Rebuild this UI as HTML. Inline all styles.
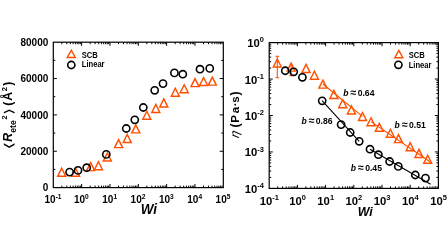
<!DOCTYPE html>
<html><head><meta charset="utf-8"><style>
html,body{margin:0;padding:0;background:#fff;width:448px;height:252px;overflow:hidden}
svg{display:block}
text{font-family:'Liberation Sans', sans-serif;fill:#000}
</style></head><body>
<svg width="448" height="252" viewBox="0 0 448 252">
<rect width="448" height="252" fill="#fff"/>
<rect x="53.3" y="42.2" width="170.00" height="145.40" fill="none" stroke="#000" stroke-width="1.2"/>
<path d="M61.83 187.6v-2.0M61.83 42.2v2.0M66.82 187.6v-2.0M66.82 42.2v2.0M70.36 187.6v-2.0M70.36 42.2v2.0M73.10 187.6v-2.0M73.10 42.2v2.0M75.35 187.6v-2.0M75.35 42.2v2.0M77.24 187.6v-2.0M77.24 42.2v2.0M78.89 187.6v-2.0M78.89 42.2v2.0M80.34 187.6v-2.0M80.34 42.2v2.0M81.63 187.6v-3.6M81.63 42.2v3.6M90.16 187.6v-2.0M90.16 42.2v2.0M95.15 187.6v-2.0M95.15 42.2v2.0M98.69 187.6v-2.0M98.69 42.2v2.0M101.44 187.6v-2.0M101.44 42.2v2.0M103.68 187.6v-2.0M103.68 42.2v2.0M105.58 187.6v-2.0M105.58 42.2v2.0M107.22 187.6v-2.0M107.22 42.2v2.0M108.67 187.6v-2.0M108.67 42.2v2.0M109.97 187.6v-3.6M109.97 42.2v3.6M118.50 187.6v-2.0M118.50 42.2v2.0M123.49 187.6v-2.0M123.49 42.2v2.0M127.03 187.6v-2.0M127.03 42.2v2.0M129.77 187.6v-2.0M129.77 42.2v2.0M132.01 187.6v-2.0M132.01 42.2v2.0M133.91 187.6v-2.0M133.91 42.2v2.0M135.55 187.6v-2.0M135.55 42.2v2.0M137.00 187.6v-2.0M137.00 42.2v2.0M138.30 187.6v-3.6M138.30 42.2v3.6M146.83 187.6v-2.0M146.83 42.2v2.0M151.82 187.6v-2.0M151.82 42.2v2.0M155.36 187.6v-2.0M155.36 42.2v2.0M158.10 187.6v-2.0M158.10 42.2v2.0M160.35 187.6v-2.0M160.35 42.2v2.0M162.24 187.6v-2.0M162.24 42.2v2.0M163.89 187.6v-2.0M163.89 42.2v2.0M165.34 187.6v-2.0M165.34 42.2v2.0M166.63 187.6v-3.6M166.63 42.2v3.6M175.16 187.6v-2.0M175.16 42.2v2.0M180.15 187.6v-2.0M180.15 42.2v2.0M183.69 187.6v-2.0M183.69 42.2v2.0M186.44 187.6v-2.0M186.44 42.2v2.0M188.68 187.6v-2.0M188.68 42.2v2.0M190.58 187.6v-2.0M190.58 42.2v2.0M192.22 187.6v-2.0M192.22 42.2v2.0M193.67 187.6v-2.0M193.67 42.2v2.0M194.97 187.6v-3.6M194.97 42.2v3.6M203.50 187.6v-2.0M203.50 42.2v2.0M208.49 187.6v-2.0M208.49 42.2v2.0M212.03 187.6v-2.0M212.03 42.2v2.0M214.77 187.6v-2.0M214.77 42.2v2.0M217.01 187.6v-2.0M217.01 42.2v2.0M218.91 187.6v-2.0M218.91 42.2v2.0M220.55 187.6v-2.0M220.55 42.2v2.0M222.00 187.6v-2.0M222.00 42.2v2.0" stroke="#000" stroke-width="1" fill="none"/>
<path d="M53.3 169.43h2.0M223.3 169.43h-2.0M53.3 151.25h3.6M223.3 151.25h-3.6M53.3 133.07h2.0M223.3 133.07h-2.0M53.3 114.90h3.6M223.3 114.90h-3.6M53.3 96.73h2.0M223.3 96.73h-2.0M53.3 78.55h3.6M223.3 78.55h-3.6M53.3 60.38h2.0M223.3 60.38h-2.0" stroke="#000" stroke-width="1" fill="none"/>
<text x="53.00" y="202.80" font-size="10" text-anchor="middle" font-weight="bold">10<tspan font-size="6.60" dy="-4.20">-1</tspan></text>
<text x="81.33" y="202.80" font-size="10" text-anchor="middle" font-weight="bold">10<tspan font-size="6.60" dy="-4.20">0</tspan></text>
<text x="109.67" y="202.80" font-size="10" text-anchor="middle" font-weight="bold">10<tspan font-size="6.60" dy="-4.20">1</tspan></text>
<text x="138.00" y="202.80" font-size="10" text-anchor="middle" font-weight="bold">10<tspan font-size="6.60" dy="-4.20">2</tspan></text>
<text x="166.33" y="202.80" font-size="10" text-anchor="middle" font-weight="bold">10<tspan font-size="6.60" dy="-4.20">3</tspan></text>
<text x="194.67" y="202.80" font-size="10" text-anchor="middle" font-weight="bold">10<tspan font-size="6.60" dy="-4.20">4</tspan></text>
<text x="223.00" y="202.80" font-size="10" text-anchor="middle" font-weight="bold">10<tspan font-size="6.60" dy="-4.20">5</tspan></text>
<text x="48.3" y="191.20" font-size="10" text-anchor="end" font-weight="bold">0</text>
<text x="48.3" y="154.85" font-size="10" text-anchor="end" font-weight="bold">20000</text>
<text x="48.3" y="118.50" font-size="10" text-anchor="end" font-weight="bold">40000</text>
<text x="48.3" y="82.15" font-size="10" text-anchor="end" font-weight="bold">60000</text>
<text x="48.3" y="45.80" font-size="10" text-anchor="end" font-weight="bold">80000</text>
<text transform="translate(148.9 213.9) scale(0.94 1)" font-size="14.3" text-anchor="middle" font-weight="bold" font-style="italic">Wi</text>
<text transform="translate(12.85 150.28) rotate(-90) scale(1.75 0.97)" font-size="12.3" font-family="DejaVu Sans, sans-serif">⟨</text>
<text transform="translate(12.25 141.80) rotate(-90)" font-size="12.3" font-weight="bold" font-style="italic">R</text>
<text transform="translate(15.78 132.80) rotate(-90)" font-size="8.7" font-weight="bold">ete</text>
<text transform="translate(7.17 119.60) rotate(-90)" font-size="7.4" font-weight="bold">2</text>
<text transform="translate(12.85 115.38) rotate(-90) scale(1.45 0.97)" font-size="12.3" font-family="DejaVu Sans, sans-serif">⟩</text>
<text transform="translate(12.25 105.70) rotate(-90)" font-size="12.3" font-weight="bold">(</text>
<text transform="translate(12.25 100.78) rotate(-90)" font-size="12.3" font-weight="bold">Å</text>
<text transform="translate(6.92 91.22) rotate(-90)" font-size="7.6" font-weight="bold">2</text>
<text transform="translate(12.25 85.85) rotate(-90)" font-size="12.3" font-weight="bold">)</text>
<path d="M71.30 50.25L75.30 57.45L67.30 57.45Z" fill="none" stroke="#ff5000" stroke-width="1.45" stroke-linejoin="miter"/>
<circle cx="71.30" cy="65.00" r="3.6" fill="none" stroke="#000" stroke-width="1.6"/>
<text transform="translate(81.8 57.6) scale(0.927 1)" font-size="8.2" font-weight="bold">SCB</text>
<text transform="translate(81.8 67.3) scale(0.927 1)" font-size="8.2" font-weight="bold">Linear</text>
<path d="M61.70 168.20L65.70 176.20L57.70 176.20Z" fill="none" stroke="#ff5000" stroke-width="1.45" stroke-linejoin="miter"/>
<path d="M75.60 168.20L79.60 176.20L71.60 176.20Z" fill="none" stroke="#ff5000" stroke-width="1.45" stroke-linejoin="miter"/>
<path d="M90.60 162.60L94.60 170.60L86.60 170.60Z" fill="none" stroke="#ff5000" stroke-width="1.45" stroke-linejoin="miter"/>
<path d="M98.50 161.70L102.50 169.70L94.50 169.70Z" fill="none" stroke="#ff5000" stroke-width="1.45" stroke-linejoin="miter"/>
<path d="M107.30 153.00L111.30 161.00L103.30 161.00Z" fill="none" stroke="#ff5000" stroke-width="1.45" stroke-linejoin="miter"/>
<path d="M118.60 139.60L122.60 147.60L114.60 147.60Z" fill="none" stroke="#ff5000" stroke-width="1.45" stroke-linejoin="miter"/>
<path d="M127.20 134.40L131.20 142.40L123.20 142.40Z" fill="none" stroke="#ff5000" stroke-width="1.45" stroke-linejoin="miter"/>
<path d="M135.80 124.85L139.80 132.85L131.80 132.85Z" fill="none" stroke="#ff5000" stroke-width="1.45" stroke-linejoin="miter"/>
<path d="M146.80 111.30L150.80 119.30L142.80 119.30Z" fill="none" stroke="#ff5000" stroke-width="1.45" stroke-linejoin="miter"/>
<path d="M155.80 104.40L159.80 112.40L151.80 112.40Z" fill="none" stroke="#ff5000" stroke-width="1.45" stroke-linejoin="miter"/>
<path d="M163.80 98.90L167.80 106.90L159.80 106.90Z" fill="none" stroke="#ff5000" stroke-width="1.45" stroke-linejoin="miter"/>
<path d="M175.30 88.30L179.30 96.30L171.30 96.30Z" fill="none" stroke="#ff5000" stroke-width="1.45" stroke-linejoin="miter"/>
<path d="M184.20 84.80L188.20 92.80L180.20 92.80Z" fill="none" stroke="#ff5000" stroke-width="1.45" stroke-linejoin="miter"/>
<path d="M195.00 78.60L199.00 86.60L191.00 86.60Z" fill="none" stroke="#ff5000" stroke-width="1.45" stroke-linejoin="miter"/>
<path d="M203.60 77.50L207.60 85.50L199.60 85.50Z" fill="none" stroke="#ff5000" stroke-width="1.45" stroke-linejoin="miter"/>
<path d="M212.30 77.10L216.30 85.10L208.30 85.10Z" fill="none" stroke="#ff5000" stroke-width="1.45" stroke-linejoin="miter"/>
<circle cx="69.60" cy="172.10" r="3.6" fill="none" stroke="#000" stroke-width="1.6"/>
<circle cx="78.00" cy="170.40" r="3.6" fill="none" stroke="#000" stroke-width="1.6"/>
<circle cx="86.70" cy="167.70" r="3.6" fill="none" stroke="#000" stroke-width="1.6"/>
<circle cx="106.30" cy="154.40" r="3.6" fill="none" stroke="#000" stroke-width="1.6"/>
<circle cx="126.25" cy="128.50" r="3.6" fill="none" stroke="#000" stroke-width="1.6"/>
<circle cx="134.80" cy="119.80" r="3.6" fill="none" stroke="#000" stroke-width="1.6"/>
<circle cx="143.30" cy="107.50" r="3.6" fill="none" stroke="#000" stroke-width="1.6"/>
<circle cx="154.70" cy="90.30" r="3.6" fill="none" stroke="#000" stroke-width="1.6"/>
<circle cx="163.00" cy="83.60" r="3.6" fill="none" stroke="#000" stroke-width="1.6"/>
<circle cx="174.40" cy="72.90" r="3.6" fill="none" stroke="#000" stroke-width="1.6"/>
<circle cx="182.80" cy="74.20" r="3.6" fill="none" stroke="#000" stroke-width="1.6"/>
<circle cx="200.00" cy="69.20" r="3.6" fill="none" stroke="#000" stroke-width="1.6"/>
<circle cx="209.75" cy="68.40" r="3.6" fill="none" stroke="#000" stroke-width="1.6"/>
<rect x="269.2" y="42.6" width="169.20" height="145.80" fill="none" stroke="#000" stroke-width="1.2"/>
<path d="M277.69 188.4v-2.0M277.69 42.6v2.0M282.65 188.4v-2.0M282.65 42.6v2.0M286.18 188.4v-2.0M286.18 42.6v2.0M288.91 188.4v-2.0M288.91 42.6v2.0M291.14 188.4v-2.0M291.14 42.6v2.0M293.03 188.4v-2.0M293.03 42.6v2.0M294.67 188.4v-2.0M294.67 42.6v2.0M296.11 188.4v-2.0M296.11 42.6v2.0M297.40 188.4v-3.6M297.40 42.6v3.6M305.89 188.4v-2.0M305.89 42.6v2.0M310.85 188.4v-2.0M310.85 42.6v2.0M314.38 188.4v-2.0M314.38 42.6v2.0M317.11 188.4v-2.0M317.11 42.6v2.0M319.34 188.4v-2.0M319.34 42.6v2.0M321.23 188.4v-2.0M321.23 42.6v2.0M322.87 188.4v-2.0M322.87 42.6v2.0M324.31 188.4v-2.0M324.31 42.6v2.0M325.60 188.4v-3.6M325.60 42.6v3.6M334.09 188.4v-2.0M334.09 42.6v2.0M339.05 188.4v-2.0M339.05 42.6v2.0M342.58 188.4v-2.0M342.58 42.6v2.0M345.31 188.4v-2.0M345.31 42.6v2.0M347.54 188.4v-2.0M347.54 42.6v2.0M349.43 188.4v-2.0M349.43 42.6v2.0M351.07 188.4v-2.0M351.07 42.6v2.0M352.51 188.4v-2.0M352.51 42.6v2.0M353.80 188.4v-3.6M353.80 42.6v3.6M362.29 188.4v-2.0M362.29 42.6v2.0M367.25 188.4v-2.0M367.25 42.6v2.0M370.78 188.4v-2.0M370.78 42.6v2.0M373.51 188.4v-2.0M373.51 42.6v2.0M375.74 188.4v-2.0M375.74 42.6v2.0M377.63 188.4v-2.0M377.63 42.6v2.0M379.27 188.4v-2.0M379.27 42.6v2.0M380.71 188.4v-2.0M380.71 42.6v2.0M382.00 188.4v-3.6M382.00 42.6v3.6M390.49 188.4v-2.0M390.49 42.6v2.0M395.45 188.4v-2.0M395.45 42.6v2.0M398.98 188.4v-2.0M398.98 42.6v2.0M401.71 188.4v-2.0M401.71 42.6v2.0M403.94 188.4v-2.0M403.94 42.6v2.0M405.83 188.4v-2.0M405.83 42.6v2.0M407.47 188.4v-2.0M407.47 42.6v2.0M408.91 188.4v-2.0M408.91 42.6v2.0M410.20 188.4v-3.6M410.20 42.6v3.6M418.69 188.4v-2.0M418.69 42.6v2.0M423.65 188.4v-2.0M423.65 42.6v2.0M427.18 188.4v-2.0M427.18 42.6v2.0M429.91 188.4v-2.0M429.91 42.6v2.0M432.14 188.4v-2.0M432.14 42.6v2.0M434.03 188.4v-2.0M434.03 42.6v2.0M435.67 188.4v-2.0M435.67 42.6v2.0M437.11 188.4v-2.0M437.11 42.6v2.0" stroke="#000" stroke-width="1" fill="none"/>
<path d="M269.2 177.43h2.0M438.4 177.43h-2.0M269.2 171.01h2.0M438.4 171.01h-2.0M269.2 166.45h2.0M438.4 166.45h-2.0M269.2 162.92h2.0M438.4 162.92h-2.0M269.2 160.04h2.0M438.4 160.04h-2.0M269.2 157.60h2.0M438.4 157.60h-2.0M269.2 155.48h2.0M438.4 155.48h-2.0M269.2 153.62h2.0M438.4 153.62h-2.0M269.2 151.95h3.6M438.4 151.95h-3.6M269.2 140.98h2.0M438.4 140.98h-2.0M269.2 134.56h2.0M438.4 134.56h-2.0M269.2 130.00h2.0M438.4 130.00h-2.0M269.2 126.47h2.0M438.4 126.47h-2.0M269.2 123.59h2.0M438.4 123.59h-2.0M269.2 121.15h2.0M438.4 121.15h-2.0M269.2 119.03h2.0M438.4 119.03h-2.0M269.2 117.17h2.0M438.4 117.17h-2.0M269.2 115.50h3.6M438.4 115.50h-3.6M269.2 104.53h2.0M438.4 104.53h-2.0M269.2 98.11h2.0M438.4 98.11h-2.0M269.2 93.55h2.0M438.4 93.55h-2.0M269.2 90.02h2.0M438.4 90.02h-2.0M269.2 87.14h2.0M438.4 87.14h-2.0M269.2 84.70h2.0M438.4 84.70h-2.0M269.2 82.58h2.0M438.4 82.58h-2.0M269.2 80.72h2.0M438.4 80.72h-2.0M269.2 79.05h3.6M438.4 79.05h-3.6M269.2 68.08h2.0M438.4 68.08h-2.0M269.2 61.66h2.0M438.4 61.66h-2.0M269.2 57.10h2.0M438.4 57.10h-2.0M269.2 53.57h2.0M438.4 53.57h-2.0M269.2 50.69h2.0M438.4 50.69h-2.0M269.2 48.25h2.0M438.4 48.25h-2.0M269.2 46.13h2.0M438.4 46.13h-2.0M269.2 44.27h2.0M438.4 44.27h-2.0" stroke="#000" stroke-width="1" fill="none"/>
<text x="269.30" y="204.50" font-size="11.3" text-anchor="middle" font-weight="bold">10<tspan font-size="7.46" dy="-4.75">-1</tspan></text>
<text x="297.50" y="204.50" font-size="11.3" text-anchor="middle" font-weight="bold">10<tspan font-size="7.46" dy="-4.75">0</tspan></text>
<text x="325.70" y="204.50" font-size="11.3" text-anchor="middle" font-weight="bold">10<tspan font-size="7.46" dy="-4.75">1</tspan></text>
<text x="353.90" y="204.50" font-size="11.3" text-anchor="middle" font-weight="bold">10<tspan font-size="7.46" dy="-4.75">2</tspan></text>
<text x="382.10" y="204.50" font-size="11.3" text-anchor="middle" font-weight="bold">10<tspan font-size="7.46" dy="-4.75">3</tspan></text>
<text x="410.30" y="204.50" font-size="11.3" text-anchor="middle" font-weight="bold">10<tspan font-size="7.46" dy="-4.75">4</tspan></text>
<text x="438.50" y="204.50" font-size="11.3" text-anchor="middle" font-weight="bold">10<tspan font-size="7.46" dy="-4.75">5</tspan></text>
<text x="264.00" y="47.10" font-size="11.3" text-anchor="end" font-weight="bold">10<tspan font-size="7.46" dy="-4.75">0</tspan></text>
<text x="264.00" y="83.55" font-size="11.3" text-anchor="end" font-weight="bold">10<tspan font-size="7.46" dy="-4.75">-1</tspan></text>
<text x="264.00" y="120.00" font-size="11.3" text-anchor="end" font-weight="bold">10<tspan font-size="7.46" dy="-4.75">-2</tspan></text>
<text x="264.00" y="156.45" font-size="11.3" text-anchor="end" font-weight="bold">10<tspan font-size="7.46" dy="-4.75">-3</tspan></text>
<text x="264.00" y="192.90" font-size="11.3" text-anchor="end" font-weight="bold">10<tspan font-size="7.46" dy="-4.75">-4</tspan></text>
<text transform="translate(365.3 216.4) scale(0.94 1)" font-size="13.2" text-anchor="middle" font-weight="bold" font-style="italic">Wi</text>
<text transform="translate(239.12 138.45) rotate(-90) skewX(-14)" font-size="12.5" font-style="italic" font-family="Liberation Serif, serif">η</text>
<text transform="translate(239.00 127.40) rotate(-90)" font-size="12.3" font-weight="bold">(</text>
<text transform="translate(239.00 122.70) rotate(-90)" font-size="11.6" font-weight="bold">P</text>
<text transform="translate(239.00 113.32) rotate(-90)" font-size="11.6" font-weight="bold">a</text>
<text transform="translate(239.00 106.22) rotate(-90)" font-size="11.6" font-weight="bold">·</text>
<text transform="translate(239.00 102.80) rotate(-90)" font-size="11.6" font-weight="bold">s</text>
<text transform="translate(239.00 95.40) rotate(-90)" font-size="12.3" font-weight="bold">)</text>
<path d="M398.80 50.45L402.80 57.65L394.80 57.65Z" fill="none" stroke="#ff5000" stroke-width="1.45" stroke-linejoin="miter"/>
<circle cx="398.40" cy="64.80" r="3.6" fill="none" stroke="#000" stroke-width="1.6"/>
<text transform="translate(408.7 57.8) scale(0.927 1)" font-size="8.2" font-weight="bold">SCB</text>
<text transform="translate(408.7 67.6) scale(0.927 1)" font-size="8.2" font-weight="bold">Linear</text>
<path d="M322.9 84L362.5 116.4M371 121.6L430 161.8" stroke="#ff5000" stroke-width="1.1" fill="none"/>
<path d="M322.1 100.7L359.2 141.3M370 149.2L430.6 184.3" stroke="#000" stroke-width="1.1" fill="none"/>
<path d="M277.3 56.2V77.8M275.4 56.2h3.8M275.4 77.8h3.8" stroke="#ff5000" stroke-width="1.1" fill="none"/>
<path d="M291.1 64V75.6M289.4 75.6h3.4" stroke="#ff5000" stroke-width="1.1" fill="none"/>
<path d="M277.30 59.00L281.30 67.00L273.30 67.00Z" fill="none" stroke="#ff5000" stroke-width="1.45" stroke-linejoin="miter"/>
<path d="M291.10 63.10L295.10 71.10L287.10 71.10Z" fill="none" stroke="#ff5000" stroke-width="1.45" stroke-linejoin="miter"/>
<path d="M306.00 64.40L310.00 72.40L302.00 72.40Z" fill="none" stroke="#ff5000" stroke-width="1.45" stroke-linejoin="miter"/>
<path d="M314.40 71.20L318.40 79.20L310.40 79.20Z" fill="none" stroke="#ff5000" stroke-width="1.45" stroke-linejoin="miter"/>
<path d="M322.90 80.10L326.90 88.10L318.90 88.10Z" fill="none" stroke="#ff5000" stroke-width="1.45" stroke-linejoin="miter"/>
<path d="M333.90 90.40L337.90 98.40L329.90 98.40Z" fill="none" stroke="#ff5000" stroke-width="1.45" stroke-linejoin="miter"/>
<path d="M342.70 99.80L346.70 107.80L338.70 107.80Z" fill="none" stroke="#ff5000" stroke-width="1.45" stroke-linejoin="miter"/>
<path d="M351.40 105.90L355.40 113.90L347.40 113.90Z" fill="none" stroke="#ff5000" stroke-width="1.45" stroke-linejoin="miter"/>
<path d="M362.50 112.50L366.50 120.50L358.50 120.50Z" fill="none" stroke="#ff5000" stroke-width="1.45" stroke-linejoin="miter"/>
<path d="M371.00 117.80L375.00 125.80L367.00 125.80Z" fill="none" stroke="#ff5000" stroke-width="1.45" stroke-linejoin="miter"/>
<path d="M379.30 123.30L383.30 131.30L375.30 131.30Z" fill="none" stroke="#ff5000" stroke-width="1.45" stroke-linejoin="miter"/>
<path d="M390.40 129.30L394.40 137.30L386.40 137.30Z" fill="none" stroke="#ff5000" stroke-width="1.45" stroke-linejoin="miter"/>
<path d="M398.50 134.60L402.50 142.60L394.50 142.60Z" fill="none" stroke="#ff5000" stroke-width="1.45" stroke-linejoin="miter"/>
<path d="M410.20 142.70L414.20 150.70L406.20 150.70Z" fill="none" stroke="#ff5000" stroke-width="1.45" stroke-linejoin="miter"/>
<path d="M419.00 149.40L423.00 157.40L415.00 157.40Z" fill="none" stroke="#ff5000" stroke-width="1.45" stroke-linejoin="miter"/>
<path d="M427.70 155.30L431.70 163.30L423.70 163.30Z" fill="none" stroke="#ff5000" stroke-width="1.45" stroke-linejoin="miter"/>
<circle cx="285.25" cy="70.75" r="3.6" fill="none" stroke="#000" stroke-width="1.6"/>
<circle cx="293.70" cy="71.80" r="3.6" fill="none" stroke="#000" stroke-width="1.6"/>
<circle cx="302.40" cy="77.30" r="3.6" fill="none" stroke="#000" stroke-width="1.6"/>
<circle cx="322.20" cy="100.80" r="3.6" fill="none" stroke="#000" stroke-width="1.6"/>
<circle cx="341.10" cy="124.60" r="3.6" fill="none" stroke="#000" stroke-width="1.6"/>
<circle cx="350.20" cy="132.50" r="3.6" fill="none" stroke="#000" stroke-width="1.6"/>
<circle cx="359.20" cy="141.30" r="3.6" fill="none" stroke="#000" stroke-width="1.6"/>
<circle cx="370.00" cy="149.20" r="3.6" fill="none" stroke="#000" stroke-width="1.6"/>
<circle cx="378.40" cy="154.70" r="3.6" fill="none" stroke="#000" stroke-width="1.6"/>
<circle cx="389.60" cy="161.50" r="3.6" fill="none" stroke="#000" stroke-width="1.6"/>
<circle cx="398.30" cy="166.40" r="3.6" fill="none" stroke="#000" stroke-width="1.6"/>
<circle cx="415.30" cy="175.00" r="3.6" fill="none" stroke="#000" stroke-width="1.6"/>
<circle cx="425.50" cy="178.10" r="3.6" fill="none" stroke="#000" stroke-width="1.6"/>
<text x="343.3" y="95.70" font-size="8.6" font-weight="bold"><tspan font-style="italic">b</tspan> <tspan x="350.60" font-size="10.5">≈</tspan> <tspan x="357.70">0.64</tspan></text>
<text x="301.4" y="124.10" font-size="8.6" font-weight="bold"><tspan font-style="italic">b</tspan> <tspan x="308.70" font-size="10.5">≈</tspan> <tspan x="315.80">0.86</tspan></text>
<text x="394.6" y="128.30" font-size="8.6" font-weight="bold"><tspan font-style="italic">b</tspan> <tspan x="401.90" font-size="10.5">≈</tspan> <tspan x="409.00">0.51</tspan></text>
<text x="350.8" y="170.80" font-size="8.6" font-weight="bold"><tspan font-style="italic">b</tspan> <tspan x="358.10" font-size="10.5">≈</tspan> <tspan x="365.20">0.45</tspan></text>
</svg>
</body></html>
